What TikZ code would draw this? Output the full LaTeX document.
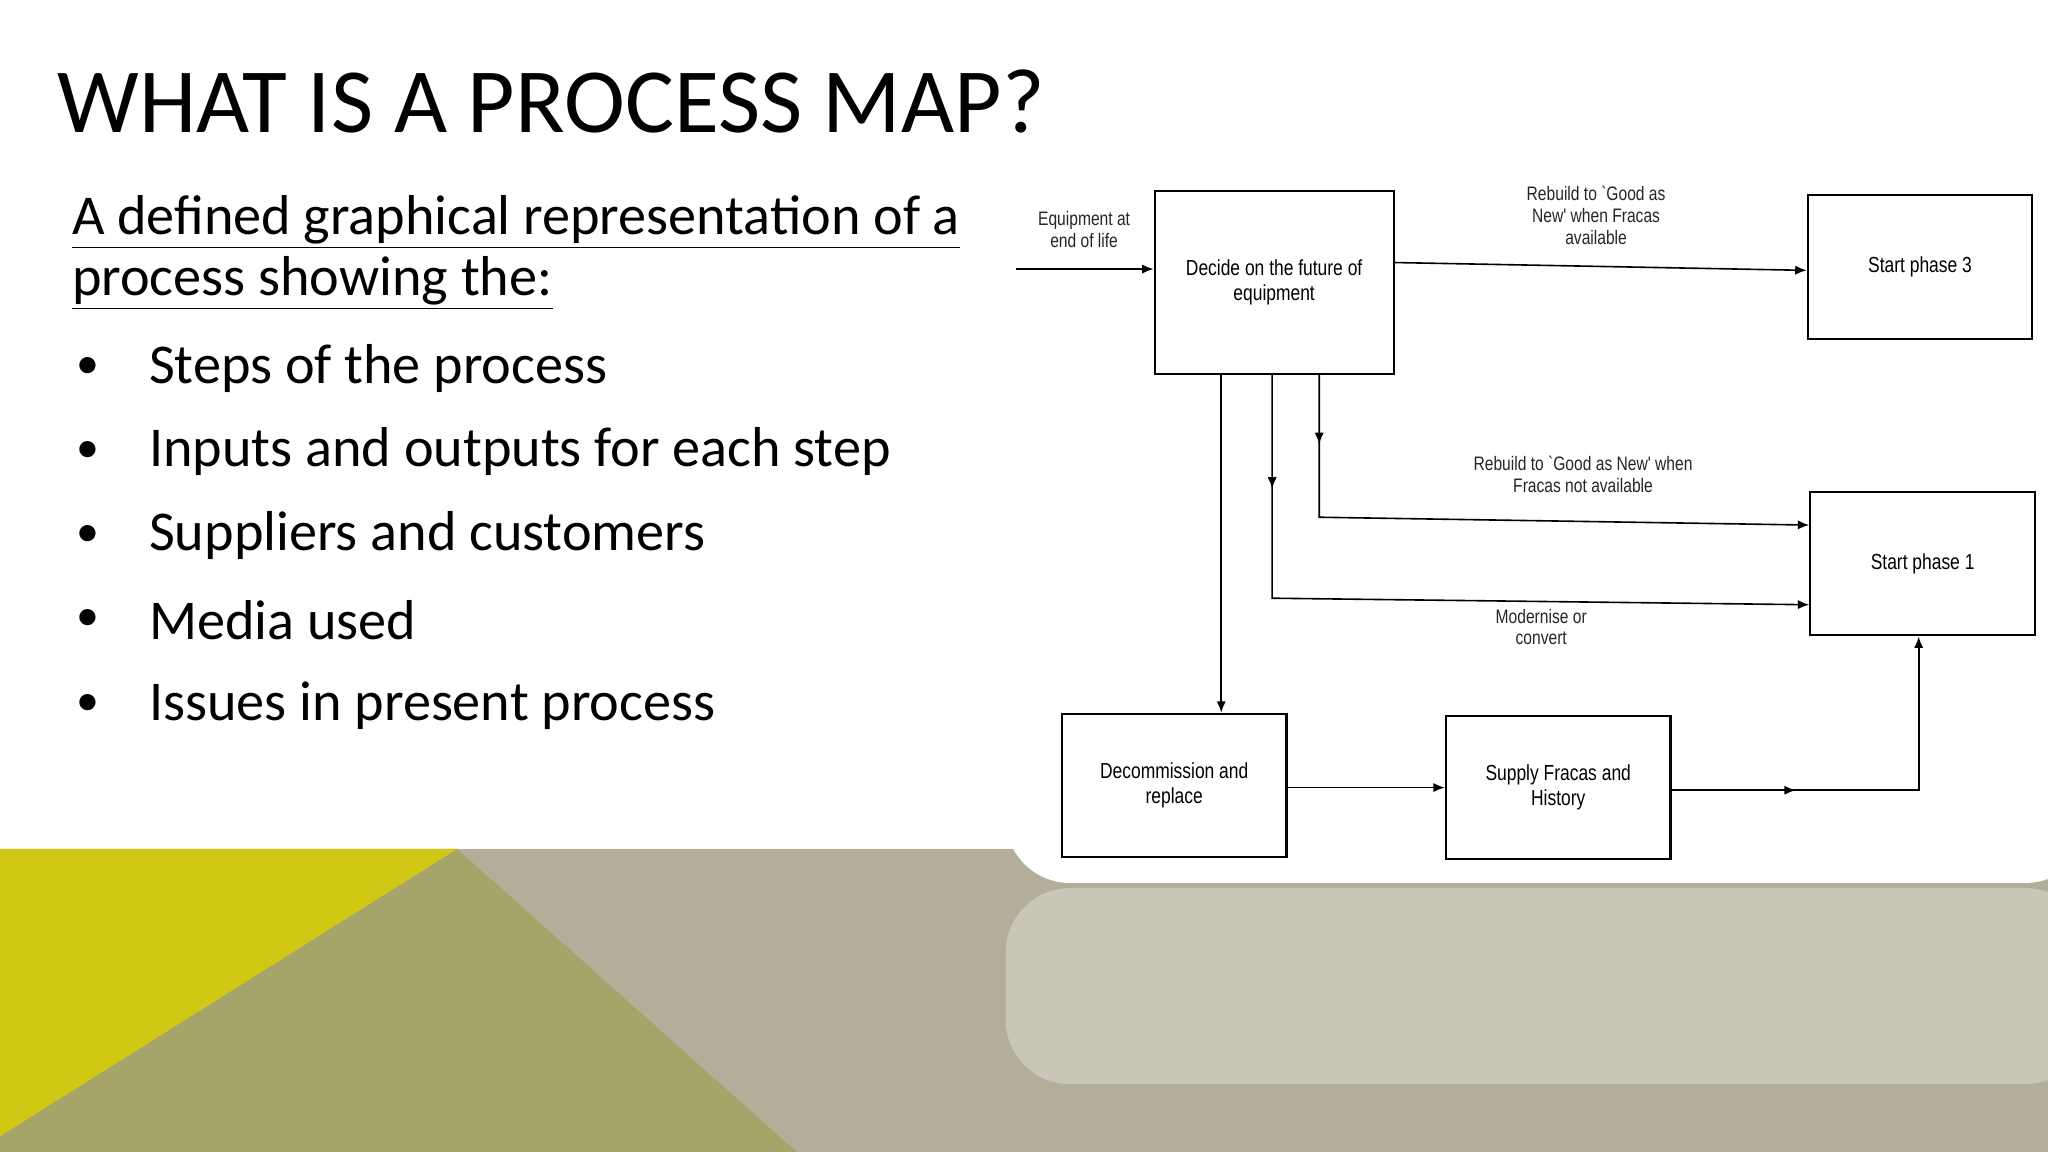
\documentclass[tikz,border=0pt]{standalone}
\usepackage{fontspec}
\setmainfont{Carlito}
\newfontfamily\diag{Liberation Sans}[FakeStretch=0.8]
\usetikzlibrary{arrows.meta,decorations.markings}
\definecolor{bandgray}{RGB}{178,174,154}
\definecolor{yell}{RGB}{208,200,20}
\definecolor{olive}{RGB}{165,165,106}
\begin{document}
\begin{tikzpicture}[x=0.02cm,y=-0.02cm,
  box/.style={draw,line width=0.9pt,minimum width=3.44cm,minimum height=2.2cm,align=center,font=\diag\fontsize{9.5}{11}\selectfont,inner sep=0},
  lbl/.style={align=center,font=\diag\fontsize{8.5}{9.5}\selectfont,text=black!85},
  ar/.style={-{Latex[length=5pt,width=4pt]},line width=0.7pt},
  mid/.style={postaction={decorate},decoration={markings,mark=at position #1 with {\arrow{Latex[length=5pt,width=4pt]}}}},
  bul/.style={anchor=west,font=\fontsize{24.5}{28}\selectfont}]
\useasboundingbox (0,0) rectangle (1568,882);
\fill[white] (0,0) rectangle (1568,882);
% background band
\fill[bandgray] (0,650) rectangle (1568,882);
\fill[olive] (0,650) -- (350,650) -- (610,882) -- (0,882) -- cycle;
\fill[yell] (0,650) -- (350,650) -- (0,870) -- cycle;
% panel
\fill[white,rounded corners=28] (770,560) -- (770,676) -- (1600,676) -- (1600,560) -- cycle;
\fill[white,opacity=0.3,rounded corners=28] (770,680) rectangle (1600,830);
% title and text
\node[anchor=west,font=\fontsize{40}{44}\selectfont] (title) at (38,78) {WHAT IS A PROCESS MAP?};
\node[anchor=west,font=\fontsize{24.5}{28}\selectfont] (sub1) at (49,170) {\underline{A defined graphical representation of a}};
\node[anchor=west,font=\fontsize{24.5}{28}\selectfont] (sub2) at (49,217) {\underline{process showing the:}};
\foreach \y/\t/\n in {282/Steps of the process/b1,346/Inputs and outputs for each step/b2,410/Suppliers and customers/b3,475/Media used/b4,540/Issues in present process/b5}{
  \node[anchor=west,font=\fontsize{20}{24}\selectfont] (\n d) at (52,\y) {•};
  \node[bul] (\n) at (108,\y) {\t};
}
% diagram
\node[box,minimum width=3.66cm,minimum height=2.8cm] (dec) at (975.5,216) {Decide on the future of\\equipment};
\node[box] (p3) at (1470,204.5) {Start phase 3};
\node[box] (p1) at (1472,431.5) {Start phase 1};
\node[box] (dcm) at (899,601.5) {Decommission and\\replace};
\node[box] (sup) at (1193,603) {Supply Fracas and\\History};
\coordinate (in) at (778,206);
\draw[ar] (in) -- (in -| dec.west);
\node[lbl] (lin) at (830,176) {Equipment at\\end of life};
\draw[ar] (dec.east |- 0,201) -- (p3.west |- 0,207);
\node[lbl] (l3) at (1222,165) {Rebuild to `Good as\\New' when Fracas\\available};
\coordinate (c1) at (1010,396);
\draw[ar,mid=0.11] (dec.south -| c1) -- (c1) -- (p1.west |- 0,402);
\node[lbl] (l1) at (1212,363) {Rebuild to `Good as New' when\\Fracas not available};
\coordinate (c2) at (974,458);
\draw[ar,mid=0.15] (dec.south -| c2) -- (c2) -- (p1.west |- 0,463);
\node[lbl] (l2) at (1180,480) {Modernise or\\convert};
\draw[ar] (dec.south -| 935,0) -- (dcm.north -| 935,0);
\draw[ar] (dcm.east |- 0,603) -- (sup.west |- 0,603);
\coordinate (c3) at (1469,605);
\draw[ar,mid=0.31] (sup.east |- c3) -- (c3) -- (p1.south -| c3);
\end{tikzpicture}
\end{document}
